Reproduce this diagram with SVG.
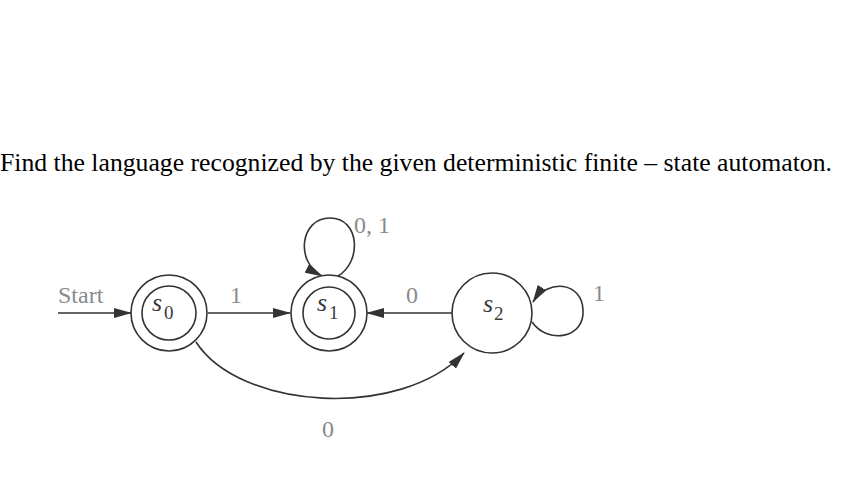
<svg xmlns="http://www.w3.org/2000/svg" width="857" height="481" viewBox="0 0 857 481">
<style>
text{font-family:"Liberation Serif","Times New Roman",Times,serif}
.title{font-size:25.5px;fill:#000}
.lbl{font-size:24px;fill:#8a8a8a}
.st{font-style:italic;font-size:26px;fill:#3a3a3a}
.sub{font-size:19px;fill:#3a3a3a}
.c{fill:#fff;stroke:#333;stroke-width:1.6}
.e{fill:none;stroke:#333;stroke-width:1.6}
</style>
<defs>
<marker id="ah" markerWidth="18" markerHeight="10" refX="17" refY="5" orient="auto" markerUnits="userSpaceOnUse">
<path d="M0,0 L18,5 L0,10 Z" fill="#333"/>
</marker>
</defs>
<rect width="857" height="481" fill="#fff"/>
<text class="title" x="0" y="171" textLength="832" lengthAdjust="spacingAndGlyphs">Find the language recognized by the given deterministic finite – state automaton.</text>
<g id="connectors">
<line class="e" x1="58" y1="313" x2="131" y2="313" marker-end="url(#ah)"/>
<line class="e" x1="208" y1="313" x2="290" y2="313" marker-end="url(#ah)"/>
<line class="e" x1="452" y1="313" x2="367" y2="313" marker-end="url(#ah)"/>
<path class="e" d="M338,276 C362,262 360,218 330,218 C300,218 295,262 322,276" marker-end="url(#ah)"/>
<path class="e" d="M532,322 C548,345 585,338 583,310 C582,282 548,278 533,302" marker-end="url(#ah)"/>
<path class="e" d="M196,342 C240,410 400,420 464,353" marker-end="url(#ah)"/>
<text class="lbl" x="58" y="303">Start</text>
<text class="lbl" x="230" y="303">1</text>
<text class="lbl" x="354" y="233">0, 1</text>
<text class="lbl" x="406" y="303">0</text>
<text class="lbl" x="593" y="301">1</text>
<text class="lbl" x="322" y="437">0</text>
</g>
<g id="s0">
<circle class="c" cx="169" cy="313" r="38"/>
<circle class="c" cx="169" cy="313" r="27"/>
<text class="st" x="152" y="311">s</text><text class="sub" x="164" y="319">0</text>
</g>
<g id="s1">
<circle class="c" cx="329" cy="313" r="38"/>
<circle class="c" cx="329" cy="313" r="26"/>
<text class="st" x="317" y="311">s</text><text class="sub" x="329" y="319">1</text>
</g>
<g id="s2">
<circle class="c" cx="492" cy="313" r="40"/>
<text class="st" x="483" y="312">s</text><text class="sub" x="494" y="320">2</text>
</g>
</svg>
